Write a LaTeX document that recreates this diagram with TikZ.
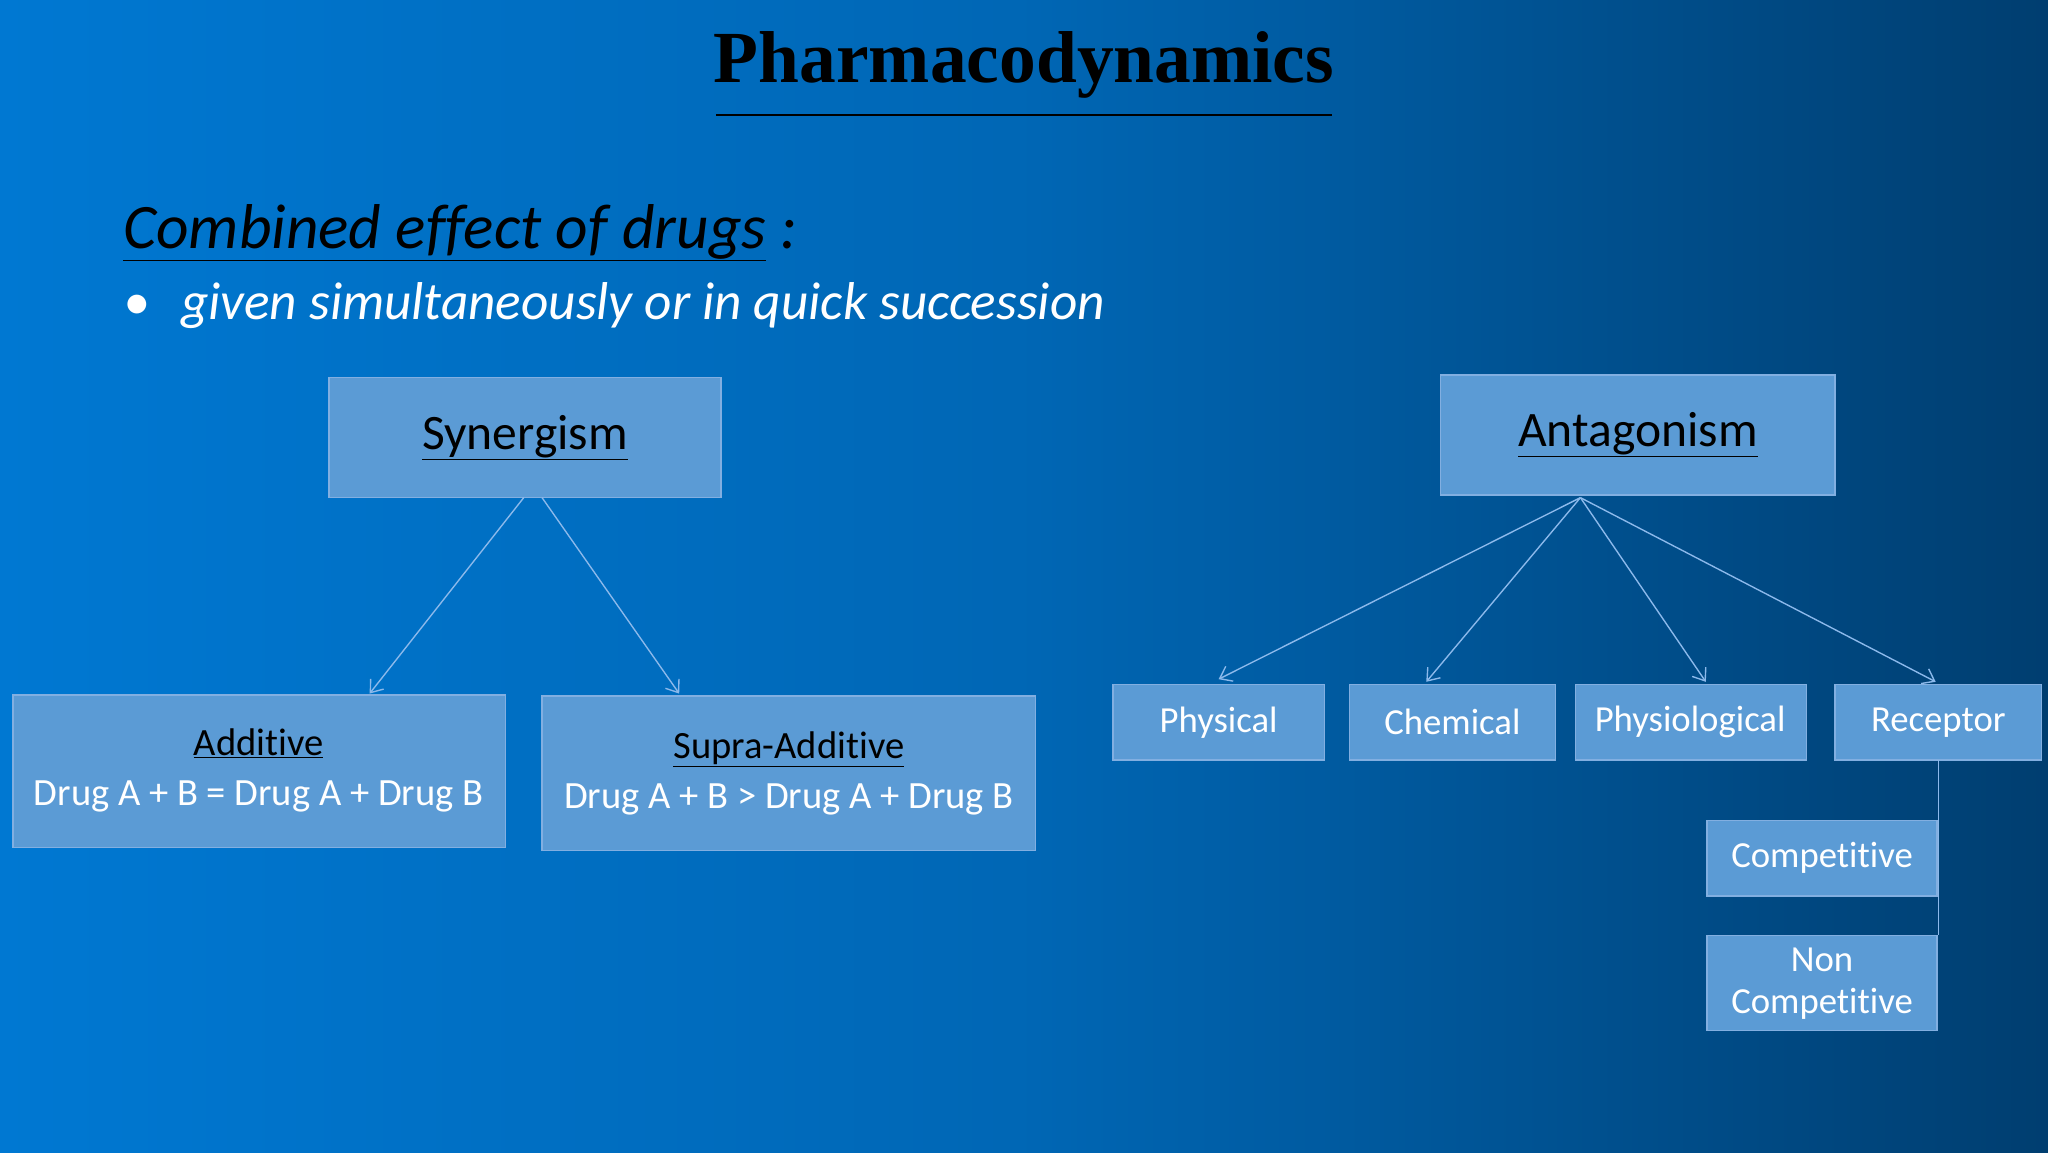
\documentclass[tikz,border=0pt]{standalone}
\usepackage{fontspec}
\setmainfont{Carlito}[Ligatures={NoCommon}]
\newfontfamily\titlefont{Liberation Serif}
\usetikzlibrary{arrows.meta}
\definecolor{bgL}{RGB}{0,120,210}
\definecolor{bgR}{RGB}{0,62,112}
\definecolor{boxF}{RGB}{91,155,213}
\definecolor{boxD}{RGB}{130,175,225}
\definecolor{lineC}{RGB}{140,185,235}
\begin{document}
\begin{tikzpicture}[x=0.05cm,y=-0.05cm,
  bx/.style={draw=boxD,line width=1.5pt,fill=boxF},
  big/.style={font=\fontsize{54}{60}\selectfont},
  mid/.style={font=\fontsize{42}{54}\selectfont},
  sml/.style={font=\fontsize{40}{48}\selectfont,text=white},
  conn/.style={draw=lineC,line width=1.5pt,-{Straight Barb[length=12pt,width=18pt]}},
  plain/.style={draw=lineC,line width=1.5pt}]
\shade[left color=bgL,right color=bgR,middle color=bgL!70!bgR] (0,0) rectangle (1568,882);
\useasboundingbox (0,0) rectangle (1568,882);
\node (title) at (784,50) {\titlefont\bfseries\fontsize{80}{90}\selectfont Pharmacodynamics};
\draw[line width=1.5pt] (548,88) -- (1020,88);
\node[anchor=west] (comb) at (92,178) {\itshape\fontsize{69}{72}\selectfont \underline{Combined effect of drugs} :};
\node[anchor=west,white] (bul) at (92,234) {\itshape\fontsize{58}{62}\selectfont \textbullet\hspace{1.2cm}given simultaneously or in quick succession};
% Synergism
\draw[bx] (252,289) rectangle (552,381);
\node[big] (syn) at (402,335) {\underline{Synergism}};
\draw[bx] (10,532) rectangle (387,649);
\node[mid,align=center] (add) at (198,590) {\underline{Additive}\\\color{white}Drug A + B = Drug A + Drug B};
\draw[bx] (415,533) rectangle (793,651);
\node[mid,align=center] (sup) at (604,592) {\underline{Supra-Additive}\\\color{white}Drug A + B > Drug A + Drug B};
\coordinate (s1) at (401,381); \coordinate (s2) at (415,381);
\coordinate (t1) at (283,531); \coordinate (t2) at (520,531);
\draw[conn] (s1) -- (t1);
\draw[conn] (s2) -- (t2);
% Antagonism
\draw[bx] (1103,287) rectangle (1405,379);
\node[big] (ant) at (1254,333) {\underline{Antagonism}};
\draw[bx] (852,524) rectangle (1014,582);
\node[sml] (phy) at (933,553) {Physical};
\draw[bx] (1033,524) rectangle (1191,582);
\node[sml] (che) at (1112,553) {Chemical};
\draw[bx] (1206,524) rectangle (1383,582);
\node[sml] (phs) at (1294,553) {Physiological};
\draw[bx] (1405,524) rectangle (1563,582);
\node[sml] (rec) at (1484,553) {Receptor};
\coordinate (a0) at (1210,381);
\coordinate (p1) at (933,520); \coordinate (p2) at (1092,522);
\coordinate (p3) at (1306,522); \coordinate (p4) at (1482,522);
\draw[conn] (a0) -- (p1);
\draw[conn] (a0) -- (p2);
\draw[conn] (a0) -- (p3);
\draw[conn] (a0) -- (p4);
\coordinate (r1) at (1484,582); \coordinate (r2) at (1484,716);
\draw[plain] (r1) -- (r2);
\draw[bx] (1307,628) rectangle (1483,686);
\node[sml] (comp) at (1395,657) {Competitive};
\draw[bx] (1307,716) rectangle (1483,789);
\node[sml,align=center,font=\fontsize{40}{45}\selectfont] (ncomp) at (1395,753) {Non\\Competitive};
\end{tikzpicture}
\end{document}
